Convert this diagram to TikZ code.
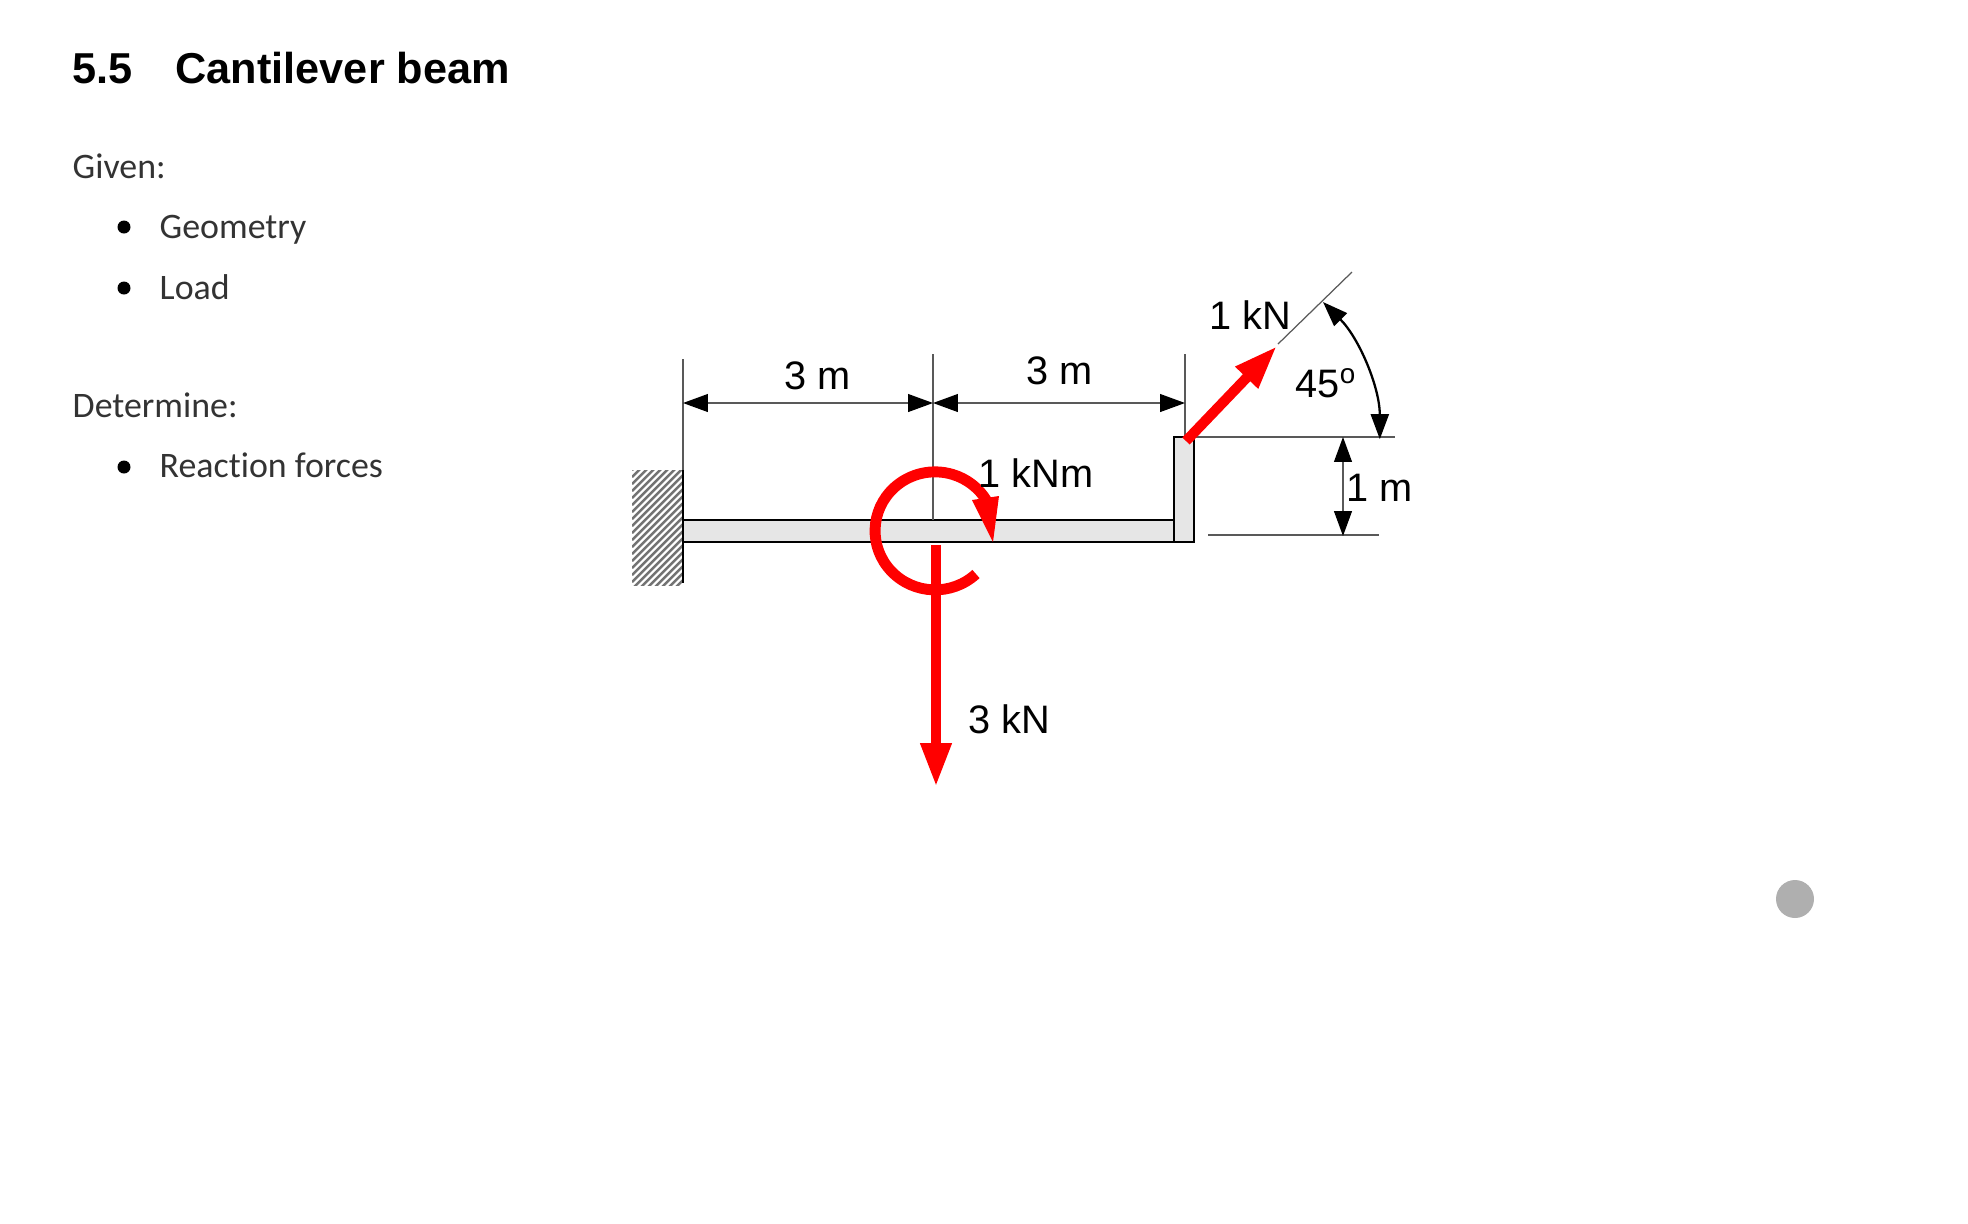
\documentclass[tikz,border=0pt]{standalone}
\usepackage{xcolor}
\usepackage{fontspec}
\setmainfont{Liberation Sans}
\newfontfamily\bodyfont[Ligatures=NoCommon]{Carlito}
\usetikzlibrary{arrows.meta}
\definecolor{beamgray}{HTML}{E6E6E6}
\definecolor{dotgray}{HTML}{AFAFAF}

\begin{document}
\begin{tikzpicture}[x=0.01cm, y=-0.01cm,
    title/.style={anchor=base west, inner sep=0pt, font=\fontsize{12.3}{14}\selectfont\bfseries},
    body/.style={anchor=base west, inner sep=0pt, text=black!80, font=\fontsize{10.2}{12}\selectfont\bodyfont},
    dimtext/.style={anchor=base west, inner sep=0pt, font=\fontsize{11.3}{13}\selectfont},
    thin line/.style={line width=0.35pt, black!65},
    dim line/.style={thin line, {Triangle[length=7.1pt, width=5.1pt, black]}-{Triangle[length=7.1pt, width=5.1pt, black]}},
    member/.style={draw=black, line width=0.8pt, fill=beamgray},
    force/.style={red, line width=2.9pt, -{Triangle[length=12.5pt, width=8.2pt]}}]
    \useasboundingbox (0,0) rectangle (1968,1223);

    % text on the left
    \node[title] (number) at (72,83) {5.5};
    \node[title] (heading) at (175,83) {Cantilever beam};
    \node[body] (given) at (72,178) {Given:};
    \node[body] (determine) at (72,417) {Determine:};
    \foreach \y/\word in {238/Geometry, 299/Load, 477/Reaction forces} {
        \node[body] (item\y) at (159,\y) {\word};
    }
    \foreach \y in {227,288,467} {
        \fill (124,\y) circle (6.5);
    }

    % wall
    \begin{scope}
        \clip (632,470) rectangle (683,585);
        \foreach \k in {0,7,...,168} {
            \draw[line width=0.7pt, black!55] (632,470+\k) -- (683,419+\k);
        }
    \end{scope}

    % beam
    \coordinate (corner) at (1185,437);
    \draw[member] (683,520) rectangle (1180,542);
    \draw[member] (1174,437) rectangle (1194,542);
    \draw[line width=0.8pt] (683,470) -- (683,583);

    % dimensions
    \coordinate (a) at (683,403);
    \coordinate (b) at (933,403);
    \coordinate (c) at (1185,403);
    \coordinate (d) at (1343,437);
    \coordinate (e) at (1343,536);
    \draw[thin line] (683,359) -- (683,470);
    \draw[thin line] (933,354) -- (933,520);
    \draw[thin line] (1185,354) -- (corner);
    \draw[thin line] (1194,437) -- (1395,437);
    \draw[thin line] (1208,535) -- (1379,535);
    \draw[thin line] (1278,344) -- (1352,272);
    \draw[dim line] (a) -- (b);
    \draw[dim line] (b) -- (c);
    \draw[dim line] (d) -- (e);
    \draw[line width=0.65pt, {Triangle[length=7.1pt, width=5.1pt]}-{Triangle[length=7.1pt, width=5.1pt]}] (1323,302) arc (-45:0:194);

    % loads
    \draw[force] (936,545) -- (936,787);
    \draw[force] (1186,441) -- (1277,346);
    \draw[red, line width=3.1pt] (976,574) arc[start angle=47, end angle=330, x radius=60, y radius=59];
    \fill[red] (993,542) -- (972,500) -- (999,496) -- cycle;

    % labels
    \node[dimtext] (left) at (784,389) {3 m};
    \node[dimtext] (right) at (1026,384) {3 m};
    \node[dimtext] (moment) at (978,487) {1 kNm};
    \node[dimtext] (slant) at (1209,329) {1 kN};
    \node[dimtext] (angle) at (1295,397) {45\textsuperscript{o}};
    \node[dimtext] (rise) at (1346,501) {1 m};
    \node[dimtext] (down) at (968,733) {3 kN};

    \fill[dotgray] (1795,899) circle (19);
\end{tikzpicture}
\end{document}
